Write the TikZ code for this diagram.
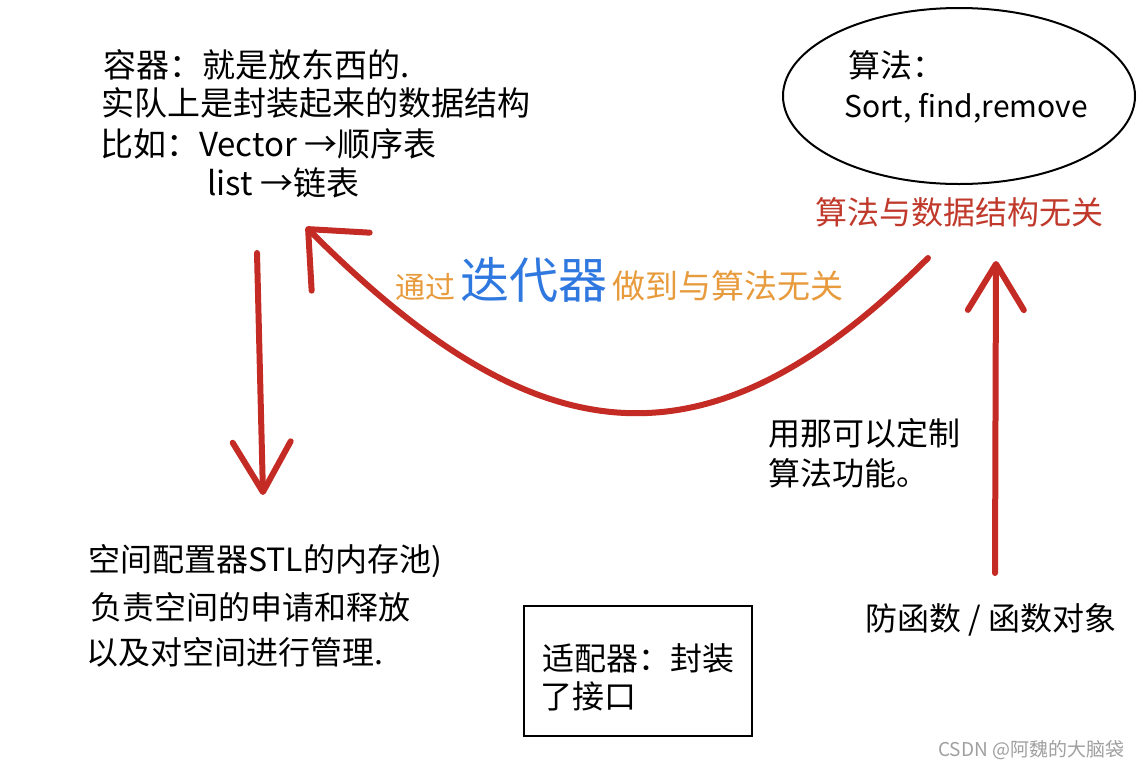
\documentclass[tikz,border=0pt]{standalone}
\usepackage{fontspec}
\setmainfont{Noto Sans CJK SC}
\usetikzlibrary{arrows.meta,shapes.geometric}
\definecolor{arrred}{HTML}{C42B24}
\definecolor{txtred}{HTML}{C0392B}
\definecolor{orng}{HTML}{E89B3C}
\definecolor{blu}{HTML}{2F78E0}
\definecolor{wmgray}{HTML}{A0A0A0}
\begin{document}
\begin{tikzpicture}[x=1pt,y=-1pt,
  txt/.style={anchor=west, inner sep=0pt, font=\fontsize{32}{32}\selectfont},
  bigtxt/.style={txt, font=\fontsize{33}{33}\selectfont},
  redarrow/.style={draw=arrred, line width=6pt, line cap=round, line join=round},
  shape1/.style={draw=black, line width=2pt},
]
\useasboundingbox[fill=white] (0,0) rectangle (1143,769);

% container text
\node[bigtxt] (c1) at (103,65) {容器：就是放东西的.};
\node[bigtxt] (c2) at (101,103) {实队上是封装起来的数据结构};
\node[bigtxt] (c3) at (100,144) {比如：Vector →顺序表};
\node[bigtxt] (c4) at (207,183) {list →链表};

% algorithm ellipse
\node[shape1, ellipse, minimum width=352pt, minimum height=176pt] (alg) at (959,96) {};
\node[txt] (a1) at (848,65) {算法：};
\node[txt, font=\fontsize{30}{30}\selectfont] (a2) at (844,108) {Sort, find,remove};
\node[txt, text=txtred] (a3) at (815,212) {算法与数据结构无关};

% iterator label
\node[anchor=base west, inner sep=0pt] (it) at (395,298)
  {{\fontsize{30}{30}\selectfont\color{orng}通过}\hspace{5pt}{\fontsize{49}{49}\selectfont\color{blu}迭代器}\hspace{5pt}{\fontsize{33}{33}\selectfont\color{orng}做到与算法无关}};

% allocator text
\node[txt] (s1) at (88,561) {空间配置器STL的内存池)};
\node[txt] (s2) at (90,607) {负责空间的申请和释放};
\node[txt] (s3) at (86,652) {以及对空间进行管理.};

% adapter box
\node[shape1, minimum width=228pt, minimum height=130pt, inner sep=0pt] (adp) at (638,671) {};
\node[txt] (d1) at (542,658) {适配器：封装};
\node[txt] (d2) at (540,696) {了接口};

% functor text
\node[txt] (f1) at (768,433) {用那可以定制};
\node[txt] (f2) at (768,473) {算法功能。};
\node[txt] (f3) at (865,620) {防函数 / 函数对象};

% watermark
\node[anchor=west, inner sep=0pt, text=wmgray, font=\fontsize{19}{19}\selectfont] (wm) at (938,750) {CSDN @阿魏的大脑袋};

% arrows
\coordinate (la1) at (257,253);
\coordinate (la2) at (263,495);
\coordinate (ca1) at (928,258);
\coordinate (ca2) at (306,227);
\coordinate (ra1) at (995,573);
\coordinate (ra2) at (996,261);
\draw[redarrow, -{Straight Barb[length=50pt,width=58pt,round]}] (la1) -- (la2);
\draw[redarrow, -{Straight Barb[length=46pt,width=82pt,round]}] (ca1) .. controls (702,484) and (532,453) .. (ca2);
\draw[redarrow, -{Straight Barb[length=46pt,width=56pt,round]}] (ra1) -- (ra2);
\end{tikzpicture}
\end{document}
